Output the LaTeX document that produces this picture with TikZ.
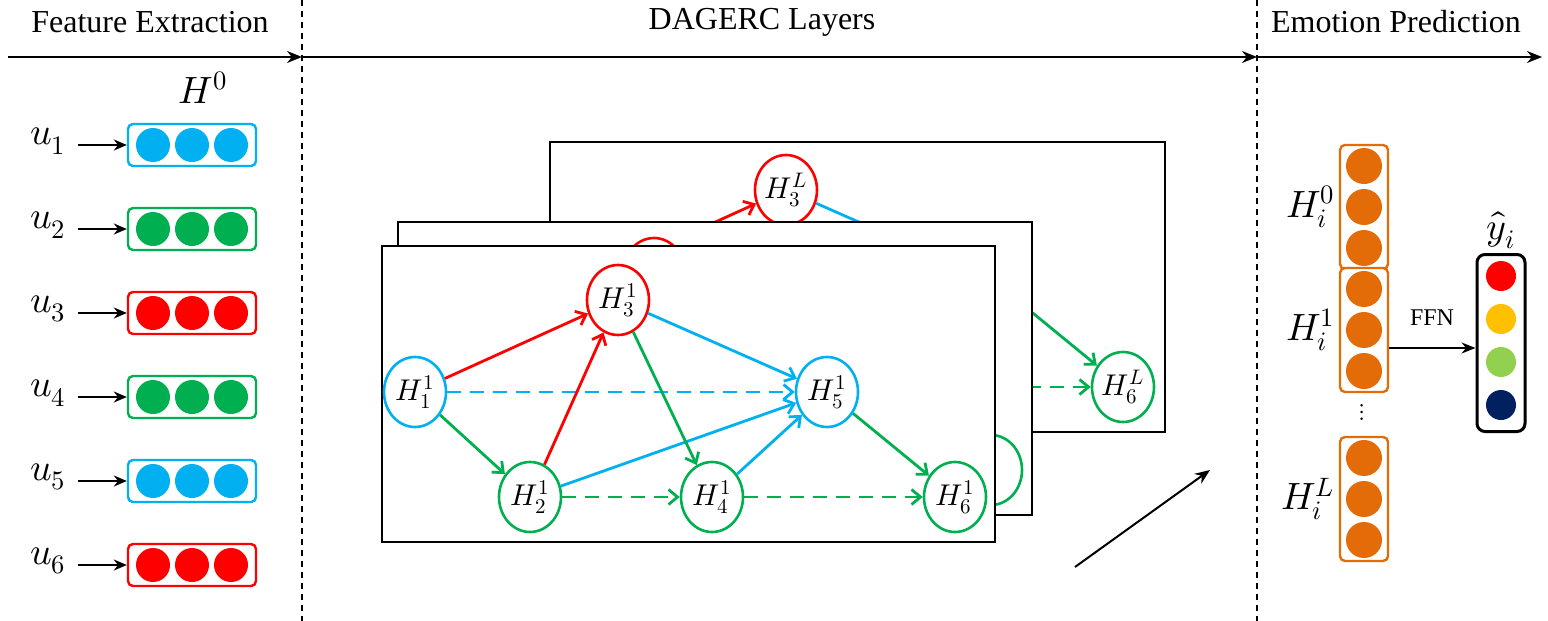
\documentclass[tikz,border=0pt]{standalone}
\usepackage{fontspec}
\usepackage{unicode-math}
\setmainfont{Liberation Serif}
\setmathfont{Latin Modern Math}
\usetikzlibrary{arrows.meta,shapes.geometric}
\definecolor{cblue}{RGB}{0,176,240}
\definecolor{cgreen}{RGB}{0,176,80}
\definecolor{cred}{RGB}{255,0,0}
\definecolor{corange}{RGB}{227,108,9}
\definecolor{cyellow}{RGB}{255,192,0}
\definecolor{clime}{RGB}{146,208,80}
\definecolor{cnavy}{RGB}{0,32,96}
\newcommand\dglayer[5][]{% [scope options], shift x, shift y, superscript, prefix
\begin{scope}[shift={(#2,#3)},#1]
\node[gn,draw=cblue]  (#5a) at (415,392) {$H^{#4}_1$};
\node[gn,draw=cred]   (#5c) at (618,300) {$H^{#4}_3$};
\node[gn,draw=cblue]  (#5e) at (827,392) {$H^{#4}_5$};
\node[gn,draw=cgreen] (#5b) at (530,497) {$H^{#4}_2$};
\node[gn,draw=cgreen] (#5d) at (712,497) {$H^{#4}_4$};
\node[gn,draw=cgreen] (#5f) at (955,497) {$H^{#4}_6$};
\draw[ge,cred] (#5a) -- (#5c);
\draw[ge,gd,cblue] (#5a) -- (#5e);
\draw[ge,cgreen] (#5a) -- (#5b);
\draw[ge,cred] (#5b) -- (#5c);
\draw[ge,cblue] (#5b) -- (#5e);
\draw[ge,gd,cgreen] (#5b) -- (#5d);
\draw[ge,cblue] (#5c) -- (#5e);
\draw[ge,cgreen] (#5c) -- (#5d);
\draw[ge,cblue] (#5d) -- (#5e);
\draw[ge,gd,cgreen] (#5d) -- (#5f);
\draw[ge,cgreen] (#5e) -- (#5f);
\end{scope}}
\begin{document}
\begin{tikzpicture}[x=1pt,y=-1pt,
  title/.style={font=\fontsize{32}{36}\selectfont},
  gn/.style={ellipse,line width=2.6pt,minimum width=62pt,minimum height=70pt,inner sep=0pt,fill=white,font=\fontsize{30}{32}\selectfont},
  ge/.style={line width=2.8pt,-{Straight Barb[length=9pt,width=15pt]}},
  gd/.style={dash pattern=on 14pt off 9pt},
  frame/.style={draw=black,line width=2pt,fill=white},
  vec/.style={rounded corners=5pt,line width=2.4pt,fill=white},
  dot/.style={circle,minimum size=34pt,inner sep=0pt},
  big/.style={font=\fontsize{38}{42}\selectfont},
  blk/.style={line width=2pt,-{Stealth[length=15pt,width=12pt]}}]
\useasboundingbox (0,0) rectangle (1548,621);
% headings and timeline
\node[title] (t1) at (150,22) {Feature Extraction};
\node[title] (t2) at (762,22) {DAGERC Layers};
\node[title] (t3) at (1396,22) {Emotion Prediction};
\coordinate (p0) at (8,57);
\coordinate (p1) at (302,57);
\coordinate (p2) at (1257,57);
\coordinate (p3) at (1542,57);
\draw[blk] (p0) -- (p1);
\draw[blk] (p1) -- (p2);
\draw[blk] (p2) -- (p3);
\coordinate (v1a) at (302,0); \coordinate (v1b) at (302,621);
\coordinate (v2a) at (1257,0); \coordinate (v2b) at (1257,621);
\draw[line width=1.6pt,dash pattern=on 6pt off 5pt] (v1a) -- (v1b);
\draw[line width=1.6pt,dash pattern=on 6pt off 5pt] (v2a) -- (v2b);
% feature extraction
\node[big] (h0) at (203,88) {$H^0$};
\foreach \i/\c in {1/cblue,2/cgreen,3/cred,4/cgreen,5/cblue,6/cred}{
  \pgfmathsetmacro\yy{145+84*(\i-1)}
  \node[big] (u\i) at (48,\yy-4) {$u_\i$};
  \node[vec,draw=\c,minimum width=128pt,minimum height=42pt] (b\i) at (192,\yy) {};
  \node[dot,fill=\c] (b\i a) at (153,\yy) {};
  \node[dot,fill=\c] (b\i b) at (192,\yy) {};
  \node[dot,fill=\c] (b\i c) at (231,\yy) {};
  \coordinate (ua\i) at (78,\yy);
  \draw[line width=2pt,-{Stealth[length=13pt,width=11pt]}] (ua\i) -- (b\i.west);
}
% DAGERC layers
\node[frame,minimum width=615pt,minimum height=290pt] (fL) at (857.5,287) {};
\dglayer{168}{-110}{L}{L}
\node[frame,minimum width=634pt,minimum height=293pt] (fM) at (715,368.5) {};
\dglayer[text opacity=0]{36}{-27}{}{M}
\node[frame,minimum width=613pt,minimum height=296pt] (fF) at (688.5,394) {};
\dglayer{0}{0}{1}{F}
\coordinate (da) at (1075,567);
\coordinate (db) at (1210,470);
\draw[blk] (da) -- (db);
% emotion prediction
\foreach \n/\y/\s in {0/207/0,1/330/1,2/499/L}{
  \node[vec,draw=corange,minimum width=48pt,minimum height=124pt] (c\n) at (1364,\y) {};
  \node[dot,fill=corange,minimum size=36pt] (c\n a) at (1364,\y-41) {};
  \node[dot,fill=corange,minimum size=36pt] (c\n b) at (1364,\y) {};
  \node[dot,fill=corange,minimum size=36pt] (c\n c) at (1364,\y+41) {};
  \node[big,anchor=east] (hl\n) at (1338,\y) {$H^{\s}_i$};
}
\node[font=\fontsize{24}{24}\selectfont,inner sep=0pt] (vd) at (1362,412) {$\vdots$};
\node[line width=3pt,draw=black,rounded corners=8pt,minimum width=48pt,minimum height=177pt] (y) at (1501,343) {};
\foreach \k/\c in {0/cred,1/cyellow,2/clime,3/cnavy}
  \node[dot,fill=\c,minimum size=30pt] (y\k) at (1501,276+43*\k) {};
\node[big] (yl) at (1501,230) {$\hat{y}_i$};
\draw[line width=1.6pt,-{Stealth[length=14pt,width=11pt]}] (c1.east |- 0,348) -- (y.west |- 0,348);
\node[font=\fontsize{24}{26}\selectfont] (ffn) at (1432,318) {FFN};
\end{tikzpicture}
\end{document}
